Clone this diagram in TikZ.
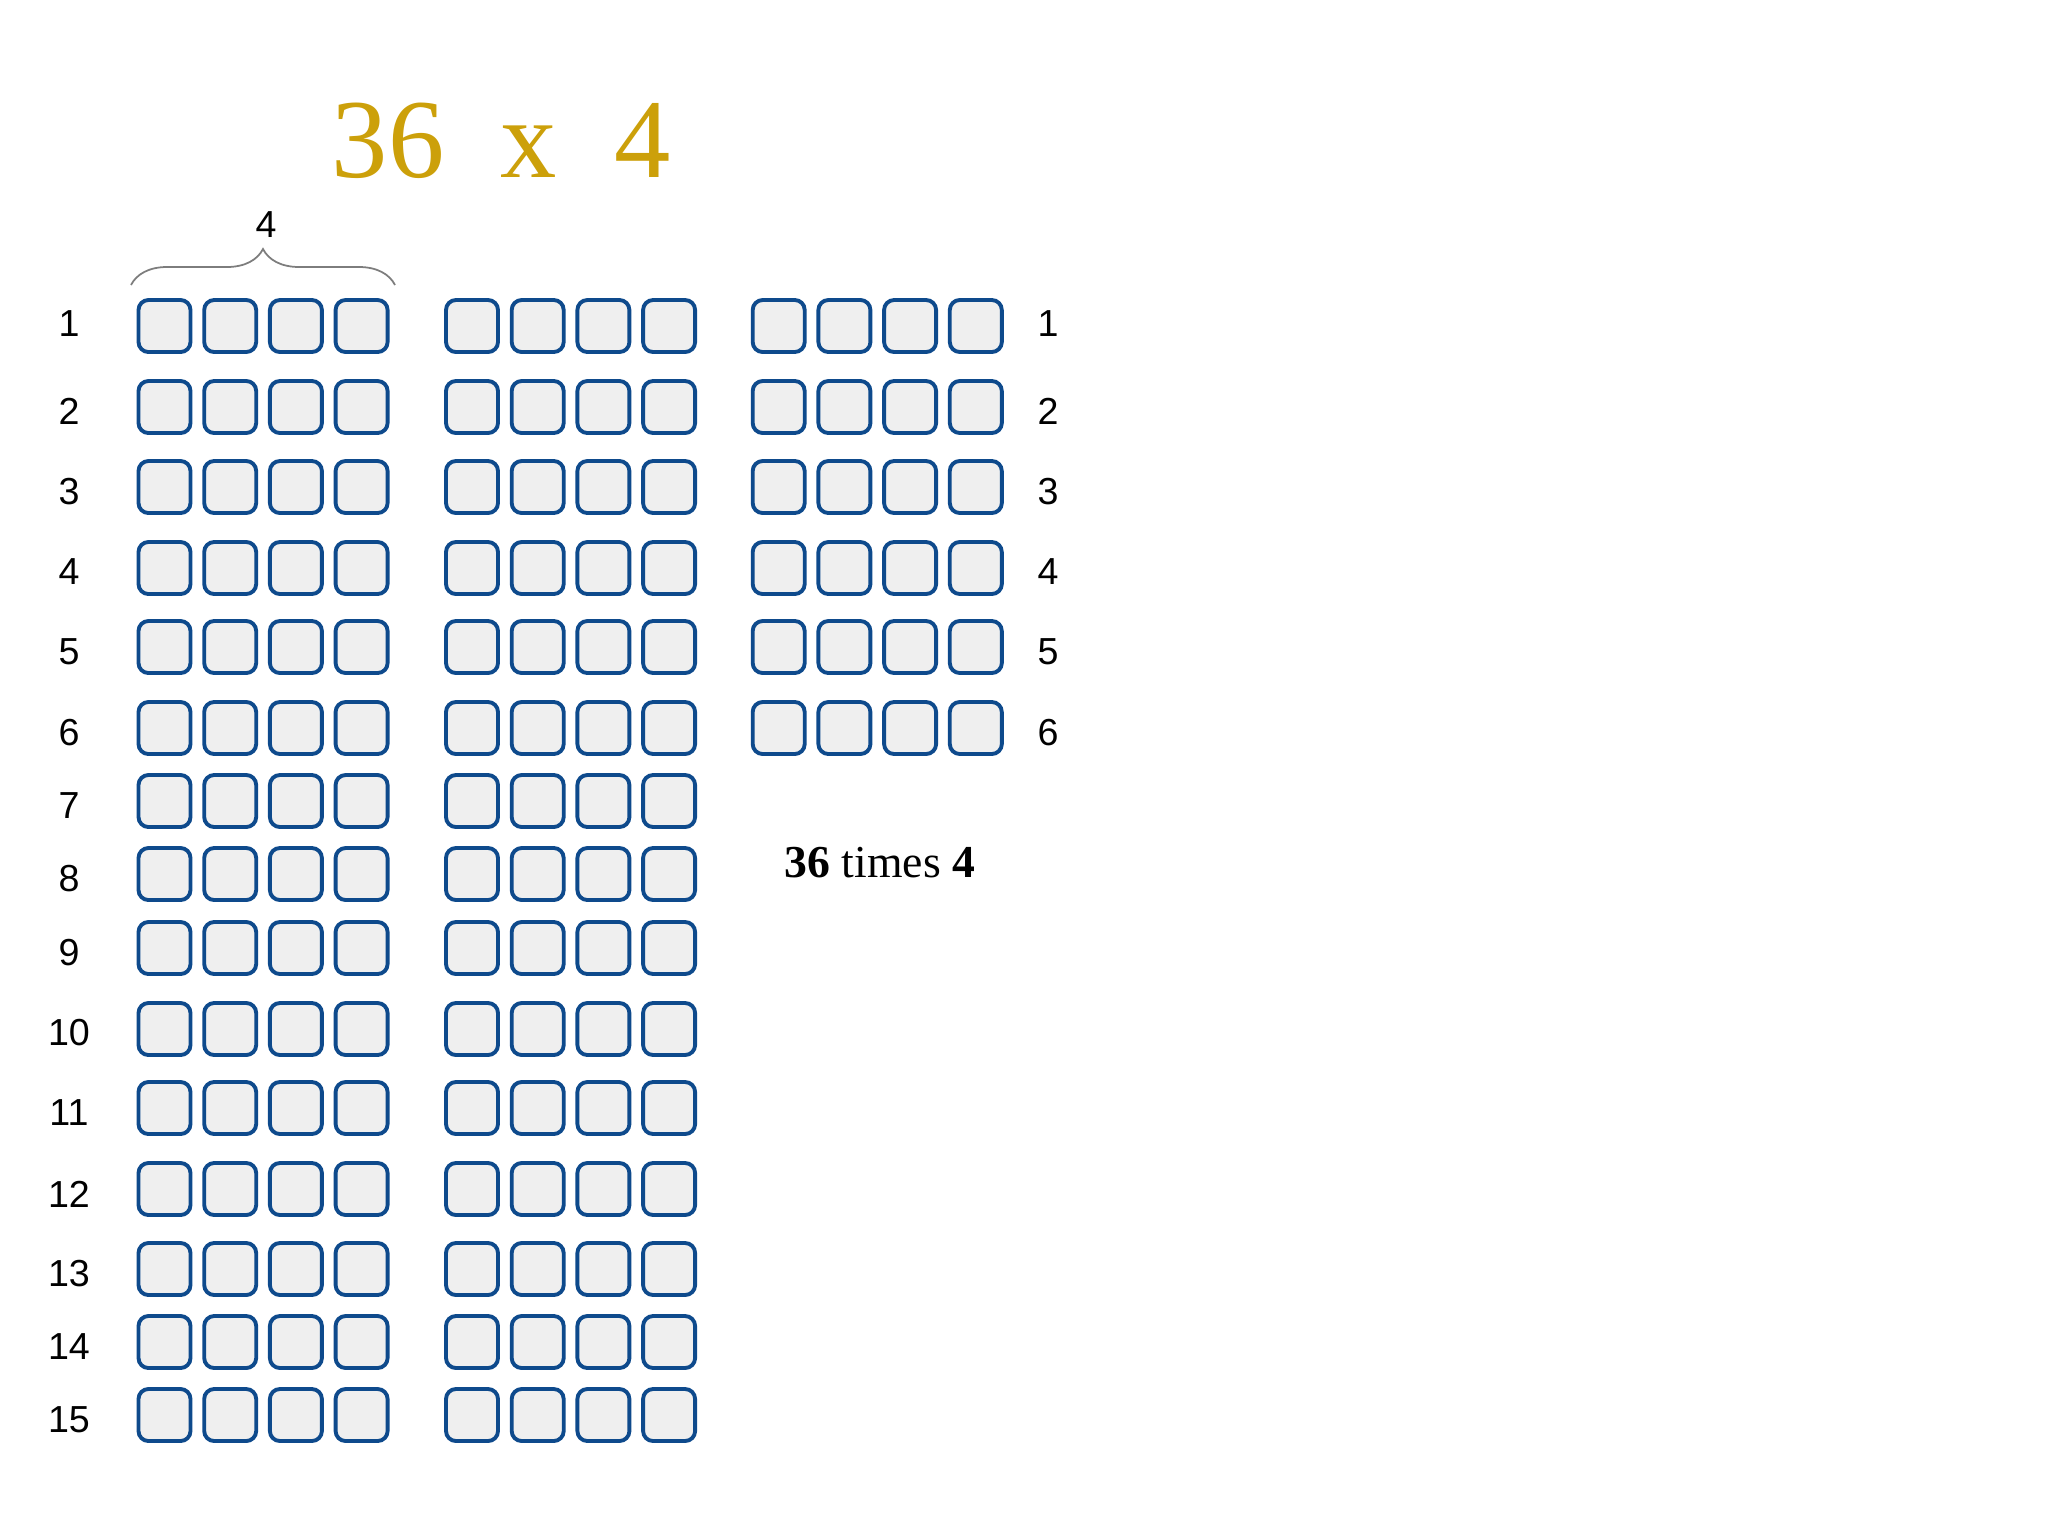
\documentclass[tikz,border=0pt]{standalone}
\usepackage{fontspec}
\setmainfont{Liberation Serif}
\setsansfont{Liberation Sans}
\usetikzlibrary{decorations.pathreplacing}
\definecolor{titlegold}{RGB}{204,160,10}
\definecolor{cellblue}{RGB}{14,74,140}
\definecolor{cellfill}{RGB}{239,239,239}
\definecolor{bracegray}{RGB}{125,125,125}

\begin{document}
\begin{tikzpicture}[x=0.01cm,y=-0.01cm,
        cell/.style={draw=cellblue,fill=cellfill,line width=1.1pt,rounded corners=0.1cm,
            minimum size=0.52cm,inner sep=0pt},
        rowlab/.style={font=\sffamily\fontsize{10.7}{12}\selectfont},
        title/.style={text=titlegold,font=\fontsize{32}{36}\selectfont,anchor=base}]
        \useasboundingbox (0,0) rectangle (2048,1535);
        % title
        \node[title] (t36) at (388,177) {36};
        \node[title] (tx) at (529,177) {x};
        \node[title] (t4) at (643,177) {4};
        % first two groups, 15 rows (row y / label y)
        \foreach \r/\y/\ly in {1/326/324,2/407/411,3/487/492,4/568/572,5/647/652,6/728/733,
                7/801/806,8/874/879,9/948/953,10/1029/1033,11/1108/1113,12/1189/1194,
                13/1269/1274,14/1342/1347,15/1415/1420}{
            \node[rowlab] (l\r) at (69,\ly) {\r};
            \foreach \c in {1,...,4}{
                \node[cell] (a\r-\c) at ({164.5+65.7*(\c-1)},\y) {};
                \node[cell] (b\r-\c) at ({472+65.7*(\c-1)},\y) {};
            }
        }
        % third group, 6 rows
        \foreach \r/\y/\ly in {1/326/324,2/407/411,3/487/492,4/568/572,5/647/652,6/728/733}{
            \foreach \c in {1,...,4}
                \node[cell] (c\r-\c) at ({778.7+65.7*(\c-1)},\y) {};
            \node[rowlab] (r\r) at (1048,\ly) {\r};
        }
        % brace over the first group
        \coordinate (bl) at (131,285);
        \coordinate (br) at (395,285);
        \draw[bracegray,line width=0.5pt,decorate,decoration={brace,amplitude=0.36cm}] (bl) -- (br);
        \node[rowlab] (bracelab) at (266,225) {4};
        \node[font=\fontsize{13}{15}\selectfont,anchor=base] (caption) at (880,877)
            {\textbf{36} times \textbf{4}};
    \end{tikzpicture}
\end{document}
